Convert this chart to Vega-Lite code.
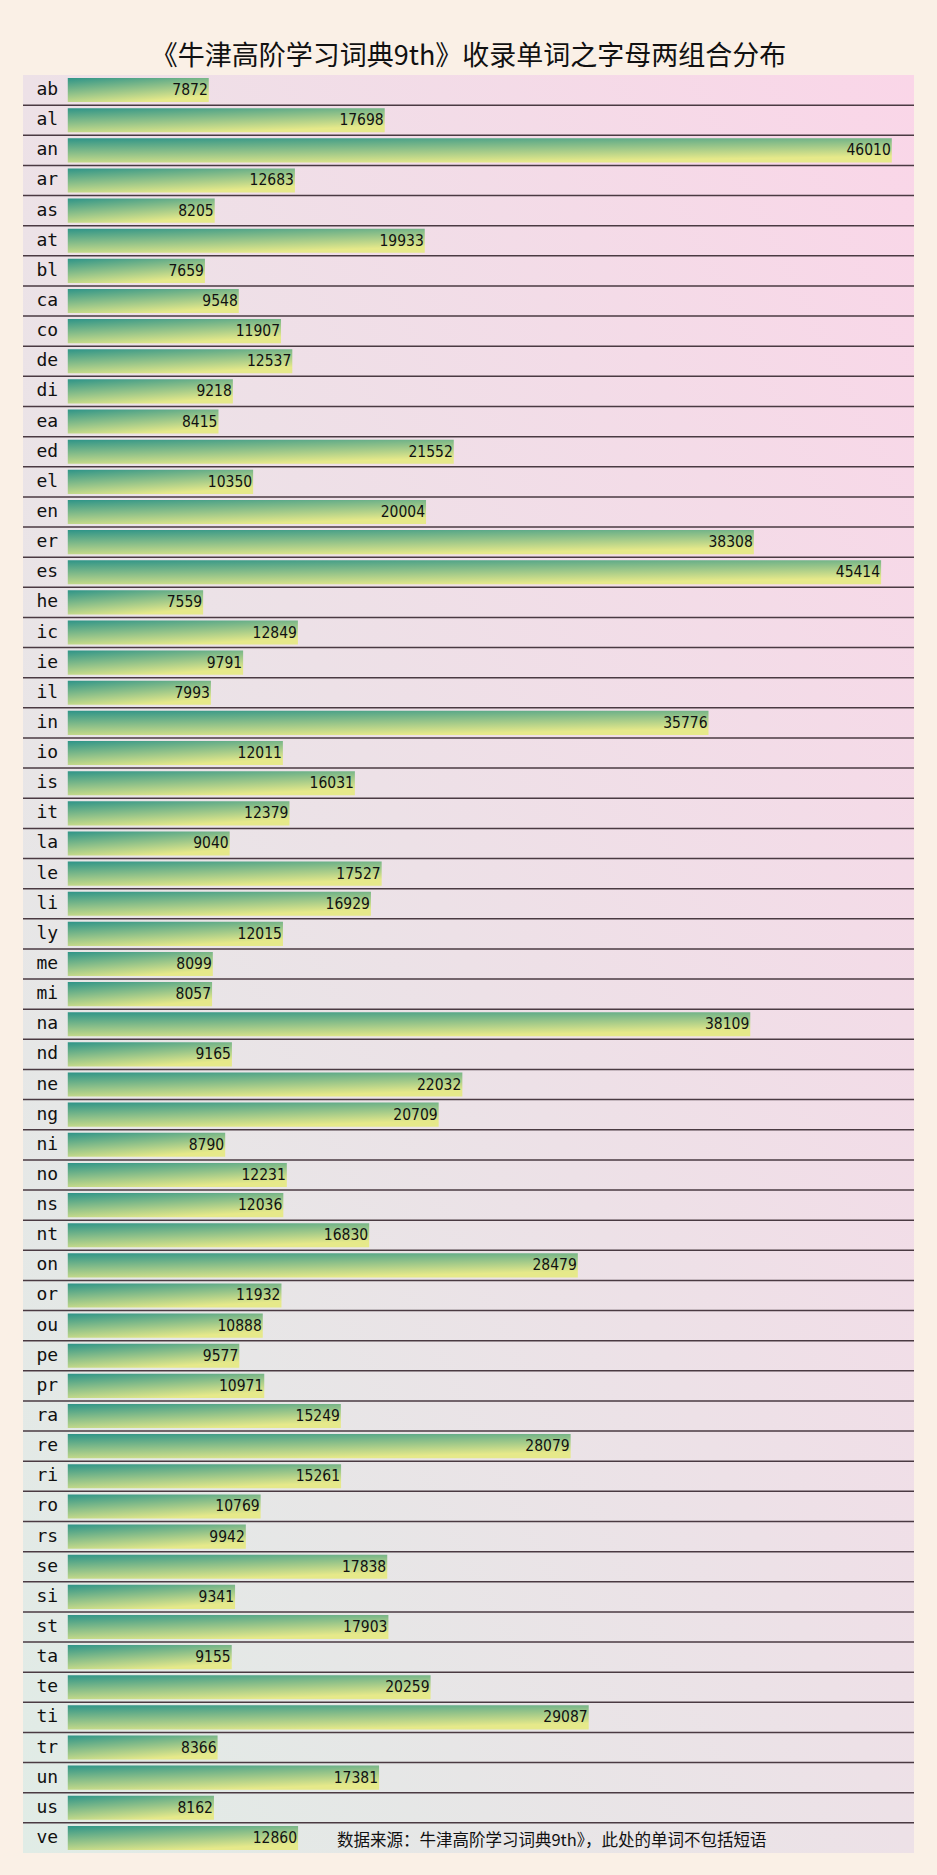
{
  "$schema": "https://vega.github.io/schema/vega-lite/v6.json",
  "autosize": {"type": "none"},
  "width": 891,
  "height": 1778,
  "padding": {"left": 23, "top": 75, "right": 23, "bottom": 22},
  "background": "#faf0e6",
  "title": {
    "text": "《牛津高阶学习词典9th》收录单词之字母两组合分布",
    "font": "Noto Sans CJK SC",
    "fontSize": 27,
    "fontWeight": "normal",
    "color": "#111111",
    "anchor": "middle",
    "offset": 4
  },
  "config": {
    "view": {
      "stroke": null,
      "fill": {
        "gradient": "linear",
        "x1": 1, "y1": 0, "x2": 0, "y2": 1,
        "stops": [
          {"offset": 0, "color": "#fad6e8"},
          {"offset": 1, "color": "#e0ece6"}
        ]
      }
    }
  },
  "data": {
    "values": [
      {"cat": "ab", "n": 7872}, {"cat": "al", "n": 17698}, {"cat": "an", "n": 46010},
      {"cat": "ar", "n": 12683}, {"cat": "as", "n": 8205}, {"cat": "at", "n": 19933},
      {"cat": "bl", "n": 7659}, {"cat": "ca", "n": 9548}, {"cat": "co", "n": 11907},
      {"cat": "de", "n": 12537}, {"cat": "di", "n": 9218}, {"cat": "ea", "n": 8415},
      {"cat": "ed", "n": 21552}, {"cat": "el", "n": 10350}, {"cat": "en", "n": 20004},
      {"cat": "er", "n": 38308}, {"cat": "es", "n": 45414}, {"cat": "he", "n": 7559},
      {"cat": "ic", "n": 12849}, {"cat": "ie", "n": 9791}, {"cat": "il", "n": 7993},
      {"cat": "in", "n": 35776}, {"cat": "io", "n": 12011}, {"cat": "is", "n": 16031},
      {"cat": "it", "n": 12379}, {"cat": "la", "n": 9040}, {"cat": "le", "n": 17527},
      {"cat": "li", "n": 16929}, {"cat": "ly", "n": 12015}, {"cat": "me", "n": 8099},
      {"cat": "mi", "n": 8057}, {"cat": "na", "n": 38109}, {"cat": "nd", "n": 9165},
      {"cat": "ne", "n": 22032}, {"cat": "ng", "n": 20709}, {"cat": "ni", "n": 8790},
      {"cat": "no", "n": 12231}, {"cat": "ns", "n": 12036}, {"cat": "nt", "n": 16830},
      {"cat": "on", "n": 28479}, {"cat": "or", "n": 11932}, {"cat": "ou", "n": 10888},
      {"cat": "pe", "n": 9577}, {"cat": "pr", "n": 10971}, {"cat": "ra", "n": 15249},
      {"cat": "re", "n": 28079}, {"cat": "ri", "n": 15261}, {"cat": "ro", "n": 10769},
      {"cat": "rs", "n": 9942}, {"cat": "se", "n": 17838}, {"cat": "si", "n": 9341},
      {"cat": "st", "n": 17903}, {"cat": "ta", "n": 9155}, {"cat": "te", "n": 20259},
      {"cat": "ti", "n": 29087}, {"cat": "tr", "n": 8366}, {"cat": "un", "n": 17381},
      {"cat": "us", "n": 8162}, {"cat": "ve", "n": 12860}
    ]
  },
  "layer": [
    {
      "mark": {
        "type": "bar",
        "height": {"band": 0.8},
        "fill": {
          "gradient": "linear",
          "x1": 0, "y1": 0, "x2": 0.5, "y2": 1,
          "stops": [
            {"offset": 0, "color": "#2e9488"},
            {"offset": 1, "color": "#e6e98a"}
          ]
        }
      },
      "encoding": {
        "y": {
          "field": "cat", "type": "nominal", "sort": null,
          "scale": {"paddingInner": 0, "paddingOuter": 0},
          "axis": {
            "title": null, "domain": false, "ticks": false, "grid": false,
            "labelAlign": "left", "labelPadding": -13,
            "labelFont": "DejaVu Sans Mono", "labelFontSize": 18,
            "labelColor": "#111111", "zindex": 1
          }
        },
        "x": {
          "field": "n", "type": "quantitative",
          "scale": {"domain": [-2500, 47250], "nice": false, "zero": false},
          "axis": null
        }
      }
    },
    {
      "mark": {
        "type": "text", "align": "right", "baseline": "middle", "dx": -1,
        "font": "Liberation Sans Narrow, DejaVu Sans Condensed, Roboto, sans-serif", "fontSize": 15.5, "color": "#111111"
      },
      "encoding": {
        "y": {"field": "cat", "type": "nominal", "sort": null},
        "x": {"field": "n", "type": "quantitative"},
        "text": {"field": "n", "type": "quantitative", "format": "d"}
      }
    },
    {
      "transform": [{"filter": "datum.cat !== 've'"}],
      "mark": {"type": "rule", "color": "#4a3a42", "strokeWidth": 1.5},
      "encoding": {
        "y": {"field": "cat", "type": "nominal", "sort": null, "bandPosition": 1}
      }
    },
    {
      "data": {"values": [{"note": "数据来源：牛津高阶学习词典9th》，此处的单词不包括短语"}]},
      "mark": {
        "type": "text", "align": "left", "baseline": "middle", "dy": 3,
        "font": "Noto Sans CJK SC", "fontSize": 16.5, "color": "#111111"
      },
      "encoding": {
        "y": {"datum": "ve"},
        "x": {"datum": 15030},
        "text": {"field": "note", "type": "nominal"}
      }
    }
  ]
}
